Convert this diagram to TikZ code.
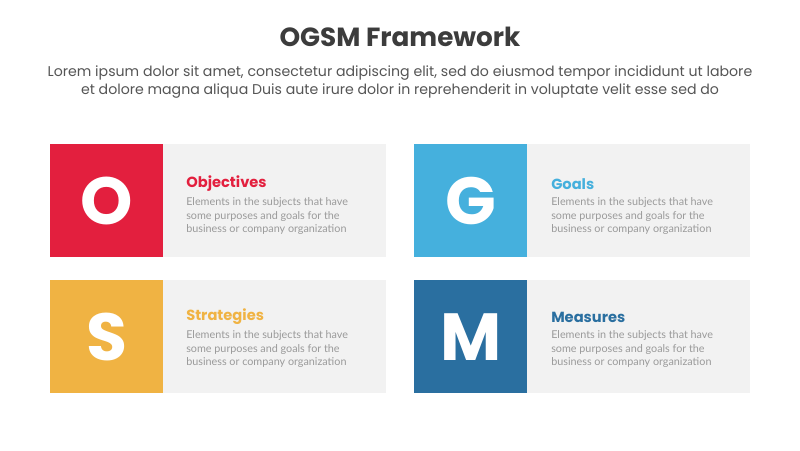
\documentclass[tikz,border=0pt]{standalone}
\usepackage{fontspec}
\setmainfont{Lato}
\newfontfamily\pop{Poppins}
\definecolor{cO}{HTML}{E31F3E}
\definecolor{cG}{HTML}{45B0DD}
\definecolor{cS}{HTML}{F0B343}
\definecolor{cM}{HTML}{2A6FA0}
\definecolor{panel}{HTML}{F2F2F2}
\definecolor{titlec}{HTML}{3C3C3C}
\definecolor{subc}{HTML}{555555}
\definecolor{bodyc}{HTML}{9A9A9A}
\begin{document}
\begin{tikzpicture}[x=0.75pt,y=-0.75pt,
  panelbox/.style={fill=panel,draw=none,minimum width=336*0.75pt,minimum height=113*0.75pt,anchor=north west,inner sep=0},
  sqbox/.style={fill=#1,draw=none,minimum width=113*0.75pt,minimum height=113*0.75pt,anchor=north west,inner sep=0,text=white,font=\pop\fontsize{50}{50}\selectfont\bfseries},
  headtxt/.style={anchor=west,inner sep=0,text=#1,font=\pop\fontsize{11}{13}\selectfont\bfseries},
  bodytxt/.style={anchor=north west,inner sep=0,text=bodyc,align=left,font=\fontsize{8.1}{10.2}\selectfont}]
\useasboundingbox (0,0) rectangle (800,450);
\fill[white] (0,0) rectangle (800,450);
\node[text=titlec,font=\pop\fontsize{19.7}{24}\selectfont\bfseries] (title) at (400,37) {OGSM Framework};
\node[text=subc,align=center,font=\pop\fontsize{10.6}{13}\selectfont] (sub) at (400,82) {Lorem ipsum dolor sit amet, consectetur adipiscing elit, sed do eiusmod tempor incididunt ut labore\\et dolore magna aliqua Duis aute irure dolor in reprehenderit in voluptate velit esse sed do};
% panels
\node[panelbox] (pO) at (50,144) {};
\node[panelbox] (pG) at (414,144) {};
\node[panelbox] (pS) at (50,280) {};
\node[panelbox] (pM) at (414,280) {};
\node[sqbox=cO] (sO) at (50,144) {O};
\node[sqbox=cG] (sG) at (414,144) {G};
\node[sqbox=cS] (sS) at (50,280) {S};
\node[sqbox=cM] (sM) at (414,280) {M};
\node[headtxt=cO] (hO) at (186,184) {Objectives};
\node[headtxt=cG] (hG) at (551,184) {Goals};
\node[headtxt=cS] (hS) at (186,317) {Strategies};
\node[headtxt=cM] (hM) at (551,317) {Measures};
\node[bodytxt] (bO) at (186,197.5) {Elements in the subjects that have\\some purposes and goals for the\\business or company organization};
\node[bodytxt] (bG) at (551,197.5) {Elements in the subjects that have\\some purposes and goals for the\\business or company organization};
\node[bodytxt] (bS) at (186,330.5) {Elements in the subjects that have\\some purposes and goals for the\\business or company organization};
\node[bodytxt] (bM) at (551,330.5) {Elements in the subjects that have\\some purposes and goals for the\\business or company organization};
\end{tikzpicture}
\end{document}
